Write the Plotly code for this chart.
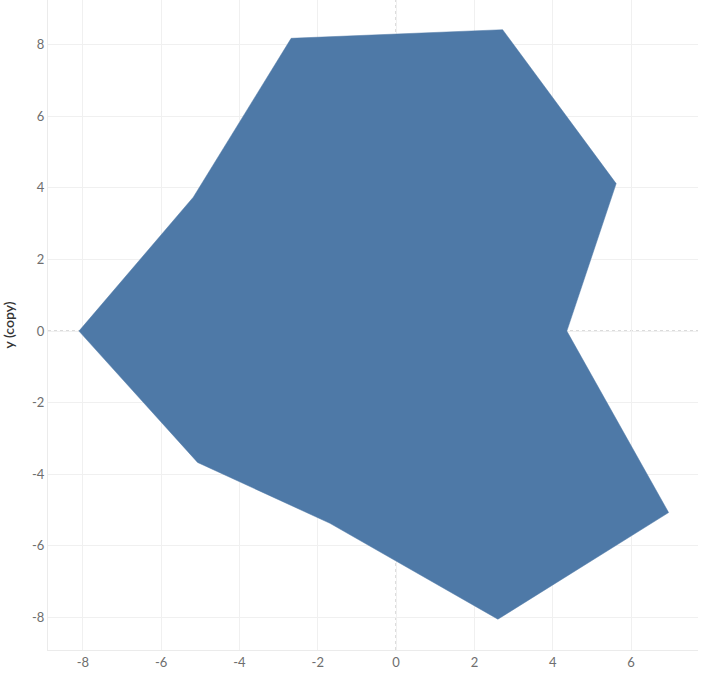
import plotly.graph_objects as go

# polygon vertices (closed back to the first point)
x_vals = [-8.10, -5.18, -2.68, 2.72, 5.62, 4.36, 6.96, 2.60, -1.69, -5.07, -8.10]
y_vals = [0.0, 3.74, 8.18, 8.42, 4.12, 0.0, -5.07, -8.05, -5.37, -3.67, 0.0]

x_ticks = [-8, -6, -4, -2, 0, 2, 4, 6]
y_ticks = [-8, -6, -4, -2, 0, 2, 4, 6, 8]

fig = go.Figure()
fig.add_trace(go.Scatter(
    x=x_vals, y=y_vals, mode="lines", fill="toself",
    fillcolor="#4e79a7", line=dict(color="#4e79a7", width=0.5),
    hoverinfo="skip", showlegend=False,
))

# dotted zero lines sitting behind the shape
fig.add_shape(type="line", xref="x", yref="paper", x0=0, x1=0, y0=0, y1=1,
              line=dict(color="#aaaaaa", width=1, dash="dot"), layer="below")
fig.add_shape(type="line", xref="paper", yref="y", x0=0, x1=1, y0=0, y1=0,
              line=dict(color="#aaaaaa", width=1, dash="dot"), layer="below")

tick_font = dict(family="Lato, Open Sans, sans-serif", size=13, color="#6e6e6e")
fig.update_xaxes(range=[-8.89, 7.71], tickvals=x_ticks,
                 ticktext=[str(v) for v in x_ticks], showgrid=True,
                 gridcolor="#f0f0f0", gridwidth=1, zeroline=False,
                 showline=True, linecolor="#ebebeb", linewidth=1,
                 ticks="", tickfont=tick_font, automargin=False)
fig.update_yaxes(range=[-8.91, 9.25], tickvals=y_ticks,
                 ticktext=[str(v) for v in y_ticks], showgrid=True,
                 gridcolor="#f0f0f0", gridwidth=1, zeroline=False,
                 showline=True, linecolor="#ebebeb", linewidth=1,
                 ticks="", tickfont=tick_font, automargin=False,
                 title=dict(text="y (copy)", standoff=14,
                            font=dict(family="Lato, Open Sans, sans-serif", size=14,
                                      color="#333333", weight=600)))
fig.update_layout(
    width=717, height=688,
    margin=dict(l=48, r=19, t=0, b=38),
    plot_bgcolor="white", paper_bgcolor="white",
)
# drop the page's default body margin so the chart sits at the window's corner
fig.write_html("out.html", config={"displayModeBar": False},
               post_script="document.body.style.margin='0';")
